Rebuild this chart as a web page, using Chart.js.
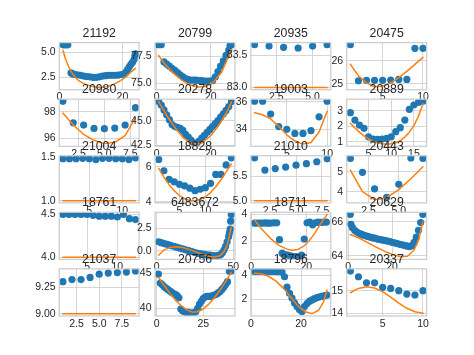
<!DOCTYPE html>
<html><head><meta charset="utf-8">
<script src="https://cdn.jsdelivr.net/npm/chart.js@4.4.1/dist/chart.umd.min.js"></script>
<style>html,body{margin:0;padding:0;background:#fff;}#wrap{position:relative;width:474px;height:355px;overflow:hidden;background:#fff;}canvas{position:absolute;left:0;top:0;}</style>
</head><body><div id="wrap"></div>
<script>
// ---------- data ----------
const titles = ['21192','20799','20935','20475','20980','20278','19003','20889','21004','18828','21010','20443','18761','6483672','18711','20629','21037','20756','18796','20337'];

const p21192_dx = [1.2,1.7,2.2,2.7,3.7,4.2,4.7,5.7,6.7,7.7,8.7,9.7,10.7,11.7,12.7,13.7,14.7,15.7,16.7,17.7,18.7,19.7,20.7,21.2,21.7,22.2,22.7,23.2,23.7,24.0,24.15];
const p21192_dy = [5.75,5.75,5.75,5.75,2.95,2.85,2.8,2.75,2.7,2.62,2.58,2.55,2.5,2.5,2.55,2.62,2.66,2.7,2.7,2.7,2.72,2.78,2.85,3.05,3.3,3.55,3.8,4.0,4.3,4.7,4.85];
const p21192_fx = [1.15,2,3,4,5,6,7,8,9,10,11,12,13,14,15,16,17,18,19,20,21,22,23,24.15];
const p21192_fy = [5.2,4.3,3.55,2.95,2.5,2.2,2.0,1.85,1.72,1.63,1.56,1.52,1.5,1.52,1.57,1.65,1.77,1.92,2.1,2.3,2.55,2.8,3.1,3.4];

const p20799_dx = [0.7,1.2,1.7,2.7,3.7,4.7,5.7,6.7,7.7,8.7,9.7,10.7,11.7,12.7,13.7,14.7,15.7,16.7,17.7,18.7,19.7,20.7,21.7,22.7,23.7,24.7,25.7,26.7,27.2,27.7];
const p20799_dy = [78.6,78.6,78.6,77.0,76.8,76.6,76.4,76.2,76.0,75.8,75.6,75.45,75.35,75.3,75.3,75.3,75.25,75.25,75.2,75.2,75.2,75.25,75.6,76.1,76.6,77.1,77.6,78.1,78.55,78.6];
const p20799_fx = [0.7,3,6,9,12,15,18,21,24,27.7];
const p20799_fy = [77.6,76.8,76.0,75.35,74.9,74.65,74.7,75.1,76.0,78.15];

const p20935_dx = [1,2,3,4,5,6];
const p20935_dy = [83.66,83.64,83.62,83.61,83.64,83.66];
const p20935_fx = [1,6];
const p20935_fy = [83.0,83.0];

const p20475_dx = [1,2,3,4,5,6,7,8,9,10];
const p20475_dy = [26.71,25.14,25.16,25.16,25.16,25.17,25.2,25.2,26.55,26.55];
const p20475_fx = [1,2,3,4,5,6,7,8,9,10];
const p20475_fy = [25.86,25.35,25.05,24.88,24.9,25.05,25.28,25.55,25.85,26.16];

const p20980_dx = [1,2,3,4,5,6,7,8];
const p20980_dy = [98.78,97.16,96.99,96.74,96.72,96.77,96.99,98.3];
const p20980_fx = [1,2,3,4,5,6,7,8];
const p20980_fy = [97.9,97.0,96.3,95.85,95.6,95.7,96.2,97.55];

const p20278_dx = [0.7,1.7,2.7,3.7,4.7,5.7,6.7,7.7,8.7,9.7,10.7,11.7,12.7,13.7,14.7,15.7,16.7,17.7,18.7,19.7,20.7,21.7,22.7,23.7,24.7,25.7,26.7,27.7];
const p20278_dy = [46.98,46.6,46.1,45.6,45.1,44.6,44.4,44.3,44.2,44.0,43.6,43.3,43.0,42.75,42.6,42.9,43.2,43.5,43.8,44.1,44.4,44.7,45.0,45.35,45.7,46.05,46.45,46.95];
const p20278_fx = [0.7,4,7,10,13,15,17,20,23,26,27.7];
const p20278_fy = [46.95,45.4,44.2,43.2,42.65,42.6,42.75,43.45,44.5,45.9,46.9];

const p19003_dx = [1,2,3,4,5,6,7,8,9,10];
const p19003_dy = [36.03,36.03,35.1,34.2,34.0,33.7,33.7,33.9,34.9,36.03];
const p19003_fx = [1,2,3,4,5,6,7,8,9,10];
const p19003_fy = [35.2,35.05,34.75,34.2,33.6,33.15,32.93,33.05,33.8,35.3];

const p20889_dx = [1,2,3,4,5,6,7,8,9,10,11,12,13,14,15,16,17];
const p20889_dy = [2.89,2.41,2.08,1.87,1.32,1.17,1.15,1.17,1.22,1.32,1.65,1.91,2.41,3.11,3.39,3.56,3.63];
const p20889_fx = [1,2,3,4,5,6,7,8,9,10,11,12,13,14,15,16,17];
const p20889_fy = [2.2,1.9,1.62,1.38,1.18,1.02,0.92,0.86,0.84,0.86,0.93,1.07,1.3,1.62,2.05,2.65,3.45];

const p21004_dx = [1,2,3,4,5,6,7,8,9,10,11,12];
const p21004_dy = [1.48,1.48,1.48,1.485,1.48,1.47,1.485,1.485,1.48,1.48,1.47,1.49];
const p21004_fx = [1,12];
const p21004_fy = [1.0,1.0];

const p18828_dx = [1,2,3,4,5,6,7,8,9,10,11,12,13,14,15];
const p18828_dy = [6.42,5.77,5.28,5.13,4.99,4.9,4.77,4.63,4.71,4.8,5.05,5.56,5.56,6.1,6.51];
const p18828_fx = [1,2,3,4,5,6,7,8,9,10,11,12,13,14,15];
const p18828_fy = [5.9,5.4,4.97,4.62,4.35,4.16,4.06,4.05,4.12,4.28,4.52,4.85,5.25,5.7,6.15];

const p21010_dx = [1,2,3,4,5,6,7,8];
const p21010_dy = [5.88,5.63,5.66,5.69,5.73,5.76,5.8,5.86];
const p21010_fx = [1,8];
const p21010_fy = [5.0,5.0];

const p20443_dx = [1,2,3,4,5,6,7];
const p20443_dy = [5.66,4.97,4.14,3.72,4.37,5.69,5.66];
const p20443_fx = [1,2,3,4,5,6,7];
const p20443_fy = [5.08,4.0,3.6,3.7,4.1,4.65,5.25];

const p18761_dx = [1,2,3,4,5,6,7,8,9,10,11,12,13];
const p18761_dy = [4.5,4.5,4.5,4.5,4.5,4.49,4.48,4.48,4.48,4.47,4.5,4.45,4.44];
const p18761_fx = [1,13];
const p18761_fy = [4.0,4.0];

const p6483672_dx = [1.3,3,5,7,9,11,13,15,17,19,21,23,25,27,29,31,33,35,37,39,41,42,43,44,45,46,47,47.5,48,48.3,48.7];
const p6483672_dy = [1.0,0.9,0.8,0.7,0.6,0.5,0.4,0.3,0.2,0.1,0.0,-0.1,-0.2,-0.3,-0.35,-0.4,-0.45,-0.5,-0.55,-0.55,-0.5,-0.4,-0.2,0.1,0.5,1.0,1.6,2.0,2.4,3.3,4.05];
const p6483672_fx = [1.3,5,9,13,17,21,25,29,33,37,41,44,46,48.7];
const p6483672_fy = [-0.5,0.1,0.4,0.45,0.35,0.15,-0.1,-0.35,-0.55,-0.7,-0.6,-0.1,0.6,2.6];

const p18711_dx = [1.3,2.3,3.3,4.3,5.3,6.3,7.3,8.3,9.3,10.3,11.3,12.3,13.3,14.3,15.3,16.3,17.3,18.3,19.3,20.3,21.3,22.3,23.3,24.3,25.3,26.3,27.3];
const p18711_dy = [3.32,3.33,3.32,3.33,3.34,3.32,3.33,3.35,3.35,2.1,1.1,1.0,0.95,0.9,0.85,0.85,0.8,0.95,2.15,3.35,3.4,3.2,3.35,3.4,3.38,3.4,3.4];
const p18711_fx = [1.3,4,7,10,13,15,17,19,21,23,25,27.6];
const p18711_fy = [3.55,2.85,2.2,1.7,1.4,1.32,1.38,1.6,2.0,2.55,3.2,3.97];

const p20629_dx = [1,1.3,2,3,4,5,6,7,8,9,10,11,12,13,14,15,16,17,18,19,20,21,22,23,24,25,26,27,28,29,30,31,32,33,34];
const p20629_dy = [66.42,65.85,65.65,65.5,65.4,65.32,65.27,65.22,65.18,65.14,65.1,65.07,65.04,65.0,64.97,64.94,64.92,64.9,64.87,64.84,64.8,64.77,64.74,64.7,64.67,64.64,64.6,64.57,64.55,64.6,64.8,65.1,65.5,65.95,66.42];
const p20629_fx = [1,5,9,13,17,21,24,27,30,32,34];
const p20629_fy = [65.25,65.05,64.78,64.5,64.25,64.05,63.95,63.98,64.35,64.9,66.0];

const p21037_dx = [1,2,3,4,5,6,7,8,9];
const p21037_dy = [9.30,9.32,9.32,9.34,9.37,9.38,9.385,9.39,9.40];
const p21037_fx = [1,9];
const p21037_fy = [9.0,9.0];

const p20756_dx = [1,2,3,4,5,6,7,8,9,10,11,12,13,14,15,16,17,18,19,20,21,22,23,24,25,26,27,28,29,30,31,32,33,34,35,36,37,38,39,40];
const p20756_dy = [44.9,43.6,43.4,43.1,42.9,42.7,42.5,42.3,42.1,42.0,41.8,41.5,39.9,39.6,39.5,39.4,39.4,39.3,39.3,39.35,39.5,40.0,40.6,41.0,41.4,41.6,41.7,41.7,41.7,41.8,41.9,42.0,42.2,42.4,42.7,43.0,43.4,43.8,45.3,45.33];
const p20756_fx = [1,4,7,10,13,16,19,22,25,28,31,34,37,40];
const p20756_fy = [44.4,43.3,42.2,41.2,40.4,39.8,39.45,39.5,39.9,40.6,41.5,42.6,43.8,45.1];

const p18796_dx = [1.4,2.4,3.4,4.4,5.4,6.4,7.4,8.4,9.4,10.4,11.4,12.4,13.4,14.4,15.4,16.4,17.4,18.4,19.4,20.4,21.4,22.4,23.4,24.4,25.4,26.4,27.4,28.4,29.4,30.4];
const p18796_dy = [4.3,4.3,4.29,4.3,4.3,4.29,4.3,4.3,4.29,4.28,4.27,4.25,3.86,3.0,2.5,2.1,1.7,1.4,1.15,1.0,1.4,1.65,1.85,1.95,2.05,2.15,2.2,2.25,2.3,2.35];
const p18796_fx = [1.4,4,7,10,13,16,19,22,24.5,27,29,30.4];
const p18796_fy = [4.14,4.1,3.9,3.5,2.9,2.15,1.4,0.95,0.82,1.1,1.8,2.77];

const p20337_dx = [1,2,3,4,5,6,7,8,9,10];
const p20337_dy = [15.87,15.62,15.35,15.35,15.15,15.1,15.0,14.85,14.81,15.0];
const p20337_fx = [1,2,3,4,5,6,7,8,9,10];
const p20337_fy = [14.91,15.1,15.18,15.12,14.96,14.72,14.45,14.22,14.07,14.0];

// axis limits [min,max] per panel
const xLimits = [[-0.02,25.3],[-0.6,29.0],[0.75,6.25],[0.55,10.45],[0.65,8.35],[-0.6,29.0],[0.55,10.45],[0.2,17.8],[0.45,12.55],[0.3,15.7],[0.65,8.35],[0.7,7.3],[0.4,13.6],[-1.04,51.1],[-0.05,28.9],[-0.6,35.7],[0.6,9.4],[-0.8,42.0],[-0.04,31.9],[0.55,10.45]];
const yLimits = [[1.26,5.97],[74.4,78.8],[82.967,83.693],[24.75,26.8],[95.4,98.94],[42.37,47.2],[32.77,36.18],[0.7,3.77],[0.9755,1.5145],[3.93,6.63],[4.956,5.924],[3.44,5.8],[3.975,4.525],[-0.97,4.29],[0.64,4.13],[63.8,66.55],[8.98,9.42],[38.9,45.64],[0.63,4.51],[13.88,15.97]];
// tick values and labels
const xTicks = [[0,20],[0,20],[2.5,5],[5,10],[2.5,5,7.5],[0,20],[5,10],[5,10,15],[5,10],[5,10],[2.5,5,7.5],[2.5,5],[5,10],[0,50],[0,20],[0,20],[2.5,5,7.5],[0,25],[0,20],[5,10]];
const xTickLabels = [['0','20'],['0','20'],['2.5','5.0'],['5','10'],['2.5','5.0','7.5'],['0','20'],['5','10'],['5','10','15'],['5','10'],['5','10'],['2.5','5.0','7.5'],['2.5','5.0'],['5','10'],['0','50'],['0','20'],['0','20'],['2.5','5.0','7.5'],['0','25'],['0','20'],['5','10']];
const yTicks = [[2.5,5],[75,77.5],[83,83.5],[25,26],[96,98],[42.5,45],[34,36],[1,2,3],[1,1.5],[4,6],[5,5.5],[4,5],[4,4.5],[0,2.5],[2,4],[64,66],[9,9.25],[40,45],[2,4],[14,15]];
const yTickLabels = [['2.5','5.0'],['75.0','77.5'],['83.0','83.5'],['25','26'],['96','98'],['42.5','45.0'],['34','36'],['1','2','3'],['1.0','1.5'],['4','6'],['5.0','5.5'],['4','5'],['4.0','4.5'],['0.0','2.5'],['2','4'],['64','66'],['9.00','9.25'],['40','45'],['2','4'],['14','15']];

const dotsX = [p21192_dx,p20799_dx,p20935_dx,p20475_dx,p20980_dx,p20278_dx,p19003_dx,p20889_dx,p21004_dx,p18828_dx,p21010_dx,p20443_dx,p18761_dx,p6483672_dx,p18711_dx,p20629_dx,p21037_dx,p20756_dx,p18796_dx,p20337_dx];
const dotsY = [p21192_dy,p20799_dy,p20935_dy,p20475_dy,p20980_dy,p20278_dy,p19003_dy,p20889_dy,p21004_dy,p18828_dy,p21010_dy,p20443_dy,p18761_dy,p6483672_dy,p18711_dy,p20629_dy,p21037_dy,p20756_dy,p18796_dy,p20337_dy];
const fitX = [p21192_fx,p20799_fx,p20935_fx,p20475_fx,p20980_fx,p20278_fx,p19003_fx,p20889_fx,p21004_fx,p18828_fx,p21010_fx,p20443_fx,p18761_fx,p6483672_fx,p18711_fx,p20629_fx,p21037_fx,p20756_fx,p18796_fx,p20337_fx];
const fitY = [p21192_fy,p20799_fy,p20935_fy,p20475_fy,p20980_fy,p20278_fy,p19003_fy,p20889_fy,p21004_fy,p18828_fy,p21010_fy,p20443_fy,p18761_fy,p6483672_fy,p18711_fy,p20629_fy,p21037_fy,p20756_fy,p18796_fy,p20337_fy];

// ---------- layout / style ----------
const PW = 79.86, PH = 47.13, GX = 15.97, GY = 9.43, L0 = 59.25, T0 = 42.6;
const TXT = '#262626', GRID = '#cccccc', BLUE = '#1f77b4', ORANGE = '#ff7f0e';
const FONT = "'Liberation Sans', Arial, sans-serif";
const YAXW = 40, XAXH = 20;

const panelPlugin = {
  id: 'panel',
  beforeDraw(chart) {
    const a = chart.chartArea, ctx = chart.ctx;
    ctx.save(); ctx.fillStyle = '#ffffff';
    ctx.fillRect(a.left, a.top, a.right - a.left, a.bottom - a.top); ctx.restore();
  },
  afterDraw(chart, args, opts) {
    const a = chart.chartArea, ctx = chart.ctx;
    ctx.save();
    ctx.strokeStyle = GRID; ctx.lineWidth = 1.25;
    ctx.strokeRect(a.left, a.top, a.right - a.left, a.bottom - a.top);
    ctx.fillStyle = TXT; ctx.font = '12.3px ' + FONT;
    ctx.textAlign = 'center'; ctx.textBaseline = 'alphabetic';
    ctx.fillText(opts.title, (a.left + a.right) / 2, a.top - 6);
    ctx.restore();
  }
};

const wrap = document.getElementById('wrap');
titles.forEach((title, i) => {
  const r = Math.floor(i / 4), c = i % 4;
  const L = L0 + c * (PW + GX), T = T0 + r * (PH + GY);
  const cv = document.createElement('canvas');
  cv.width = 474; cv.height = 355; cv.style.width = '474px'; cv.style.height = '355px';
  wrap.appendChild(cv);
  const xt = xTicks[i], xl = xTickLabels[i], yt = yTicks[i], yl = yTickLabels[i];
  new Chart(cv.getContext('2d'), {
    type: 'scatter',
    data: { datasets: [
      { data: fitX[i].map((x, k) => ({ x, y: fitY[i][k] })), showLine: true, borderColor: ORANGE, borderWidth: 1.5,
        borderCapStyle: 'round', borderJoinStyle: 'round', pointRadius: 0, pointHoverRadius: 0, tension: 0, fill: false, clip: 0, order: 0 },
      { data: dotsX[i].map((x, k) => ({ x, y: dotsY[i][k] })), backgroundColor: BLUE, pointBackgroundColor: BLUE,
        pointBorderWidth: 0, borderWidth: 0, pointRadius: 3.6, pointHoverRadius: 3.6, clip: 0, order: 1 }
    ]},
    options: {
      responsive: false, animation: false, devicePixelRatio: 1, events: [],
      layout: { padding: { left: L - YAXW, top: T, right: 474 - (L + PW), bottom: 355 - (T + PH) - XAXH } },
      plugins: { legend: { display: false }, tooltip: { enabled: false }, panel: { title } },
      scales: {
        x: { type: 'linear', position: 'bottom', min: xLimits[i][0], max: xLimits[i][1],
          afterBuildTicks: s => { s.ticks = xt.map(v => ({ value: v })); },
          afterFit: s => { s.height = XAXH; },
          ticks: { autoSkip: false, maxRotation: 0, minRotation: 0, padding: 1.5, color: TXT,
            font: { family: FONT, size: 10.5 }, callback: (v, k) => xl[k] },
          grid: { color: GRID, lineWidth: 0.8, drawTicks: false, tickLength: 0 }, border: { display: false } },
        y: { type: 'linear', position: 'left', min: yLimits[i][0], max: yLimits[i][1],
          afterBuildTicks: s => { s.ticks = yt.map(v => ({ value: v })); },
          afterFit: s => { s.width = YAXW; },
          ticks: { autoSkip: false, padding: 3.6, color: TXT,
            font: { family: FONT, size: 10.5 }, callback: (v, k) => yl[k] },
          grid: { color: GRID, lineWidth: 0.8, drawTicks: false, tickLength: 0 }, border: { display: false } }
      }
    },
    plugins: [panelPlugin]
  });
});
</script></body></html>
